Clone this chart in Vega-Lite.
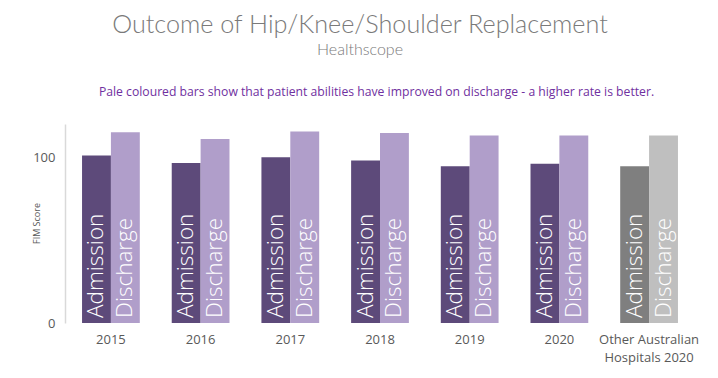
{
  "$schema": "https://vega.github.io/schema/vega-lite/v6.json",
  "width": 630,
  "height": 199,
  "autosize": {"type": "none"},
  "padding": {"left": 65, "top": 124, "right": 23, "bottom": 55},
  "background": "white",
  "config": {"view": {"stroke": null}, "font": "Open Sans"},
  "title": {
    "text": "Outcome of Hip/Knee/Shoulder Replacement",
    "subtitle": "Healthscope",
    "anchor": "middle",
    "dx": -20,
    "font": "Lato",
    "fontSize": 25.2,
    "fontWeight": 300,
    "color": "#7A7A7A",
    "subtitleFont": "Lato",
    "subtitleFontSize": 16,
    "subtitleFontWeight": 300,
    "subtitleColor": "#7A7A7A",
    "subtitlePadding": 4,
    "offset": 27
  },
  "data": {
    "values": [
      {"cat": "2015", "series": "Admission", "hosp": "Healthscope", "score": 101},
      {"cat": "2015", "series": "Discharge", "hosp": "Healthscope", "score": 115},
      {"cat": "2016", "series": "Admission", "hosp": "Healthscope", "score": 96.5},
      {"cat": "2016", "series": "Discharge", "hosp": "Healthscope", "score": 111},
      {"cat": "2017", "series": "Admission", "hosp": "Healthscope", "score": 100},
      {"cat": "2017", "series": "Discharge", "hosp": "Healthscope", "score": 115.5},
      {"cat": "2018", "series": "Admission", "hosp": "Healthscope", "score": 98},
      {"cat": "2018", "series": "Discharge", "hosp": "Healthscope", "score": 114.5},
      {"cat": "2019", "series": "Admission", "hosp": "Healthscope", "score": 94.5},
      {"cat": "2019", "series": "Discharge", "hosp": "Healthscope", "score": 113},
      {"cat": "2020", "series": "Admission", "hosp": "Healthscope", "score": 96},
      {"cat": "2020", "series": "Discharge", "hosp": "Healthscope", "score": 113},
      {"cat": "Other Australian Hospitals 2020", "series": "Admission", "hosp": "Other", "score": 94.5},
      {"cat": "Other Australian Hospitals 2020", "series": "Discharge", "hosp": "Other", "score": 113}
    ]
  },
  "transform": [{"calculate": "datum.hosp + ' ' + datum.series", "as": "key"}],
  "encoding": {
    "x": {
      "field": "cat",
      "type": "nominal",
      "sort": null,
      "scale": {"paddingInner": 0.356, "paddingOuter": 0.19},
      "axis": {
        "orient": "bottom",
        "title": null,
        "labelAngle": 0,
        "ticks": false,
        "domain": false,
        "labelFont": "Open Sans",
        "labelFontSize": 13,
        "labelColor": "#595959",
        "labelPadding": 10,
        "labelLineHeight": 18,
        "labelExpr": "datum.label == 'Other Australian Hospitals 2020' ? ['Other Australian', 'Hospitals 2020'] : datum.label"
      }
    },
    "xOffset": {"field": "series", "type": "nominal", "scale": {"paddingInner": 0, "paddingOuter": 0}}
  },
  "layer": [
    {
      "mark": {"type": "bar"},
      "encoding": {
        "y": {
          "field": "score",
          "type": "quantitative",
          "scale": {"domain": [0, 120], "nice": false},
          "axis": {
            "values": [0, 100],
            "grid": false,
            "ticks": false,
            "domainColor": "#D9D9D9",
            "domainWidth": 1.5,
            "labelFont": "Open Sans",
            "labelFontSize": 13,
            "labelColor": "#595959",
            "labelPadding": 10,
            "title": "FIM Score",
            "titleFont": "Open Sans",
            "titleFontSize": 9,
            "titleFontWeight": "normal",
            "titleColor": "#595959",
            "titleX": -24,
            "titleY": 99
          }
        },
        "color": {
          "field": "key",
          "type": "nominal",
          "scale": {
            "domain": ["Healthscope Admission", "Healthscope Discharge", "Other Admission", "Other Discharge"],
            "range": ["#5D4A7A", "#B09ECA", "#7F7F7F", "#BFBFBF"]
          },
          "legend": null
        }
      }
    },
    {
      "mark": {
        "type": "text",
        "angle": 270,
        "align": "left",
        "baseline": "middle",
        "dx": 5,
        "color": "white",
        "font": "Open Sans",
        "fontWeight": 300,
        "fontSize": 22.5
      },
      "encoding": {
        "y": {"datum": 0, "type": "quantitative"},
        "text": {"field": "series"},
        "x": {
          "field": "cat",
          "type": "nominal",
          "sort": null,
          "axis": {
            "orient": "top",
            "labels": false,
            "ticks": false,
            "domain": false,
            "title": "Pale coloured bars show that patient abilities have improved on discharge - a higher rate is better.",
            "titleFont": "Open Sans",
            "titleFontSize": 12.2,
            "titleFontWeight": "normal",
            "titleColor": "#7030A0",
            "titlePadding": 26,
            "titleX": 311
          }
        }
      }
    }
  ],
  "resolve": {"axis": {"x": "independent"}}
}
